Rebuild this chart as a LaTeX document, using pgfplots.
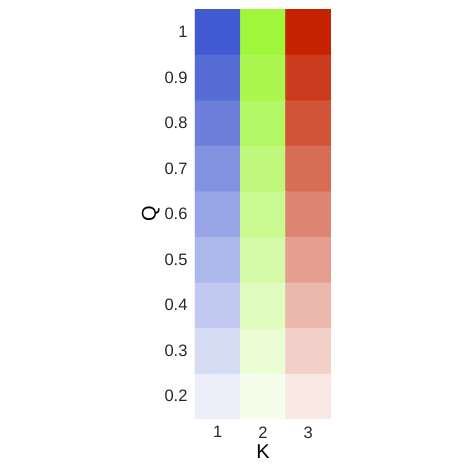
\documentclass[border=0pt]{standalone}
\usepackage{pgfplots}
\pgfplotsset{compat=1.18}
\usepackage{fontspec}
\setmainfont{Liberation Sans}
\definecolor{qb}{RGB}{66,90,209}
\definecolor{qg}{RGB}{160,246,58}
\definecolor{qr}{RGB}{196,34,0}
\definecolor{axtext}{RGB}{40,40,40}
\begin{document}
\begin{tikzpicture}
\path[use as bounding box] (-195pt,-55pt) rectangle (279pt,419pt);
\begin{axis}[
  at={(0,0)}, anchor=south west,
  scale only axis, width=136pt, height=410pt,
  xmin=0.5, xmax=3.5, ymin=0.15, ymax=1.05,
  xtick={1,2,3}, ytick={0.2,0.3,0.4,0.5,0.6,0.7,0.8,0.9,1},
  yticklabels={0.2,0.3,0.4,0.5,0.6,0.7,0.8,0.9,1},
  axis line style={draw=none}, major tick length=0pt,
  /pgf/number format/assume math mode=true,
  ticklabel style={font=\fontsize{16.5}{18}\selectfont, text=axtext},
  xticklabel style={yshift=-4pt},
  yticklabel style={xshift=-4pt},
  xlabel={K}, ylabel={Q},
  label style={font=\fontsize{20}{22}\selectfont},
  xlabel style={yshift=0pt},
  ylabel style={yshift=-2pt},
]
\addplot[matrix plot*, mesh/cols=3, mesh/color input=explicit, point meta=explicit symbolic]
table[meta=c] {
x y c
1 0.2 color=qb!10
2 0.2 color=qg!10
3 0.2 color=qr!10
1 0.3 color=qb!21.25
2 0.3 color=qg!21.25
3 0.3 color=qr!21.25
1 0.4 color=qb!32.5
2 0.4 color=qg!32.5
3 0.4 color=qr!32.5
1 0.5 color=qb!43.75
2 0.5 color=qg!43.75
3 0.5 color=qr!43.75
1 0.6 color=qb!55
2 0.6 color=qg!55
3 0.6 color=qr!55
1 0.7 color=qb!66.25
2 0.7 color=qg!66.25
3 0.7 color=qr!66.25
1 0.8 color=qb!77.5
2 0.8 color=qg!77.5
3 0.8 color=qr!77.5
1 0.9 color=qb!88.75
2 0.9 color=qg!88.75
3 0.9 color=qr!88.75
1 1.0 color=qb
2 1.0 color=qg
3 1.0 color=qr
};
\end{axis}
\end{tikzpicture}
\end{document}
